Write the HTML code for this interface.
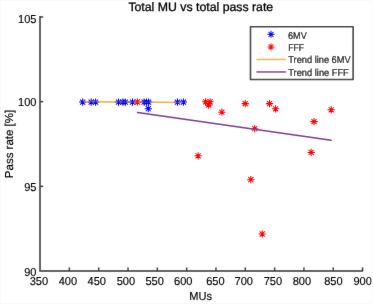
<!DOCTYPE html>
<html><head><meta charset="utf-8"><style>
html,body{margin:0;padding:0;background:#fff;}
svg{display:block;} text{will-change:transform;text-rendering:geometricPrecision;}
</style></head><body>
<svg width="373" height="304" viewBox="0 0 373 304">
<defs><filter id="bl" x="0" y="0" width="373" height="304" filterUnits="userSpaceOnUse"><feConvolveMatrix order="3" kernelMatrix="0.0036 0.0528 0.0036 0.0528 0.7744 0.0528 0.0036 0.0528 0.0036" preserveAlpha="false" edgeMode="duplicate"/></filter></defs>
<rect width="373" height="304" fill="#fff"/>
<g filter="url(#bl)">
<path d="M0 0.5H373M372.5 0V304M0 303.5H373M0.5 0V304" stroke="#fafafa" stroke-width="1" fill="none"/>
<path d="M40 16V271H363" stroke="#666666" stroke-width="2" fill="none" stroke-linejoin="round"/>
<g stroke="#404040" stroke-width="1.5">
<path d="M69.38 267.4V271"/>
<path d="M98.70 267.4V271"/>
<path d="M128.02 267.4V271"/>
<path d="M157.34 267.4V271"/>
<path d="M186.66 267.4V271"/>
<path d="M215.98 267.4V271"/>
<path d="M245.30 267.4V271"/>
<path d="M274.62 267.4V271"/>
<path d="M303.94 267.4V271"/>
<path d="M333.26 267.4V271"/>
<path d="M362.58 267.4V271"/>
<path d="M40 186.34H43.2"/>
<path d="M40 101.67H43.2"/>
<path d="M40 17.00H43.2"/>
</g>
<g font-family="Liberation Sans" font-size="11.5" fill="#000" stroke="#000" stroke-width="0.15">
<text transform="translate(38.85,285.3) scale(0.96,1)" text-anchor="middle">350</text>
<text transform="translate(67.90,285.3) scale(0.96,1)" text-anchor="middle">400</text>
<text transform="translate(96.80,285.3) scale(0.96,1)" text-anchor="middle">450</text>
<text transform="translate(125.90,285.3) scale(0.96,1)" text-anchor="middle">500</text>
<text transform="translate(154.60,285.3) scale(0.96,1)" text-anchor="middle">550</text>
<text transform="translate(183.30,285.3) scale(0.96,1)" text-anchor="middle">600</text>
<text transform="translate(215.40,285.3) scale(0.96,1)" text-anchor="middle">650</text>
<text transform="translate(243.80,285.3) scale(0.96,1)" text-anchor="middle">700</text>
<text transform="translate(272.90,285.3) scale(0.96,1)" text-anchor="middle">750</text>
<text transform="translate(301.90,285.3) scale(0.96,1)" text-anchor="middle">800</text>
<text transform="translate(333.40,285.3) scale(0.96,1)" text-anchor="middle">850</text>
<text transform="translate(362.60,285.3) scale(0.96,1)" text-anchor="middle">900</text>
<text transform="translate(36.5,275.80) scale(0.96,1)" text-anchor="end">90</text>
<text transform="translate(36.5,191.34) scale(0.96,1)" text-anchor="end">95</text>
<text transform="translate(36.5,106.37) scale(0.96,1)" text-anchor="end">100</text>
<text transform="translate(36.5,22.60) scale(0.96,1)" text-anchor="end">105</text>
<text transform="translate(200.6,300.2) scale(0.96,1)" text-anchor="middle">MUs</text>
<text transform="translate(13.0,144.0) rotate(-90)" text-anchor="middle">Pass rate [%]</text>
</g>
<text x="128.4" y="11.45" font-family="Liberation Sans" font-size="12.3" fill="#000" stroke="#000" stroke-width="0.3" textLength="144.8" lengthAdjust="spacingAndGlyphs">Total MU vs total pass rate</text>
<path d="M83.0 101.66L183 102.48" stroke="#EDB24A" stroke-width="1.55" fill="none"/>
<g stroke-width="1.05" fill="none">
<path d="M79.10 102.07H86.30M82.70 98.47V105.67M80.15 99.52L85.25 104.62M80.15 104.62L85.25 99.52" stroke="#0000ff"/>
<path d="M87.55 102.07H94.75M91.15 98.47V105.67M88.60 99.52L93.70 104.62M88.60 104.62L93.70 99.52" stroke="#0000ff"/>
<path d="M92.00 102.07H99.20M95.60 98.47V105.67M93.05 99.52L98.15 104.62M93.05 104.62L98.15 99.52" stroke="#0000ff"/>
<path d="M114.90 102.07H122.10M118.50 98.47V105.67M115.95 99.52L121.05 104.62M115.95 104.62L121.05 99.52" stroke="#0000ff"/>
<path d="M119.30 102.07H126.50M122.90 98.47V105.67M120.35 99.52L125.45 104.62M120.35 104.62L125.45 99.52" stroke="#0000ff"/>
<path d="M121.70 102.07H128.90M125.30 98.47V105.67M122.75 99.52L127.85 104.62M122.75 104.62L127.85 99.52" stroke="#0000ff"/>
<path d="M128.90 102.07H136.10M132.50 98.47V105.67M129.95 99.52L135.05 104.62M129.95 104.62L135.05 99.52" stroke="#0000ff"/>
<path d="M140.50 102.07H147.70M144.10 98.47V105.67M141.55 99.52L146.65 104.62M141.55 104.62L146.65 99.52" stroke="#0000ff"/>
<path d="M142.90 102.07H150.10M146.50 98.47V105.67M143.95 99.52L149.05 104.62M143.95 104.62L149.05 99.52" stroke="#0000ff"/>
<path d="M145.00 102.07H152.20M148.60 98.47V105.67M146.05 99.52L151.15 104.62M146.05 104.62L151.15 99.52" stroke="#0000ff"/>
<path d="M173.90 102.07H181.10M177.50 98.47V105.67M174.95 99.52L180.05 104.62M174.95 104.62L180.05 99.52" stroke="#0000ff"/>
<path d="M179.80 102.07H187.00M183.40 98.47V105.67M180.85 99.52L185.95 104.62M180.85 104.62L185.95 99.52" stroke="#0000ff"/>
<path d="M144.70 108.70H151.90M148.30 105.10V112.30M145.75 106.15L150.85 111.25M145.75 111.25L150.85 106.15" stroke="#0000ff"/>
<path d="M133.80 102.00H141.00M137.40 98.40V105.60M134.85 99.45L139.95 104.55M134.85 104.55L139.95 99.45" stroke="#ff0000"/>
<path d="M202.00 101.80H209.20M205.60 98.20V105.40M203.05 99.25L208.15 104.35M203.05 104.35L208.15 99.25" stroke="#ff0000"/>
<path d="M206.50 101.80H213.70M210.10 98.20V105.40M207.55 99.25L212.65 104.35M207.55 104.35L212.65 99.25" stroke="#ff0000"/>
<path d="M205.10 105.10H212.30M208.70 101.50V108.70M206.15 102.55L211.25 107.65M206.15 107.65L211.25 102.55" stroke="#ff0000"/>
<path d="M218.30 112.20H225.50M221.90 108.60V115.80M219.35 109.65L224.45 114.75M219.35 114.75L224.45 109.65" stroke="#ff0000"/>
<path d="M241.60 103.60H248.80M245.20 100.00V107.20M242.65 101.05L247.75 106.15M242.65 106.15L247.75 101.05" stroke="#ff0000"/>
<path d="M265.90 103.60H273.10M269.50 100.00V107.20M266.95 101.05L272.05 106.15M266.95 106.15L272.05 101.05" stroke="#ff0000"/>
<path d="M272.00 108.80H279.20M275.60 105.20V112.40M273.05 106.25L278.15 111.35M273.05 111.35L278.15 106.25" stroke="#ff0000"/>
<path d="M251.10 128.70H258.30M254.70 125.10V132.30M252.15 126.15L257.25 131.25M252.15 131.25L257.25 126.15" stroke="#ff0000"/>
<path d="M327.60 109.80H334.80M331.20 106.20V113.40M328.65 107.25L333.75 112.35M328.65 112.35L333.75 107.25" stroke="#ff0000"/>
<path d="M310.40 121.60H317.60M314.00 118.00V125.20M311.45 119.05L316.55 124.15M311.45 124.15L316.55 119.05" stroke="#ff0000"/>
<path d="M307.60 152.40H314.80M311.20 148.80V156.00M308.65 149.85L313.75 154.95M308.65 154.95L313.75 149.85" stroke="#ff0000"/>
<path d="M194.50 155.80H201.70M198.10 152.20V159.40M195.55 153.25L200.65 158.35M195.55 158.35L200.65 153.25" stroke="#ff0000"/>
<path d="M247.20 179.70H254.40M250.80 176.10V183.30M248.25 177.15L253.35 182.25M248.25 182.25L253.35 177.15" stroke="#ff0000"/>
<path d="M258.60 234.00H265.80M262.20 230.40V237.60M259.65 231.45L264.75 236.55M259.65 236.55L264.75 231.45" stroke="#ff0000"/>
</g>
<path d="M83.0 101.66L183 102.48" stroke="#EDB24A" stroke-width="1.1" stroke-opacity="0.55" fill="none"/>
<circle cx="82.70" cy="102.07" r="0.9" fill="#101060" fill-opacity="0.7"/>
<circle cx="91.15" cy="102.07" r="0.9" fill="#101060" fill-opacity="0.7"/>
<circle cx="95.60" cy="102.07" r="0.9" fill="#101060" fill-opacity="0.7"/>
<circle cx="118.50" cy="102.07" r="0.9" fill="#101060" fill-opacity="0.7"/>
<circle cx="122.90" cy="102.07" r="0.9" fill="#101060" fill-opacity="0.7"/>
<circle cx="125.30" cy="102.07" r="0.9" fill="#101060" fill-opacity="0.7"/>
<circle cx="132.50" cy="102.07" r="0.9" fill="#101060" fill-opacity="0.7"/>
<circle cx="144.10" cy="102.07" r="0.9" fill="#101060" fill-opacity="0.7"/>
<circle cx="146.50" cy="102.07" r="0.9" fill="#101060" fill-opacity="0.7"/>
<circle cx="148.60" cy="102.07" r="0.9" fill="#101060" fill-opacity="0.7"/>
<circle cx="177.50" cy="102.07" r="0.9" fill="#101060" fill-opacity="0.7"/>
<circle cx="183.40" cy="102.07" r="0.9" fill="#101060" fill-opacity="0.7"/>
<circle cx="137.40" cy="102.00" r="0.8" fill="#601010" fill-opacity="0.6"/>
<path d="M137.6 112.5L331.2 140.2" stroke="#7C3F8F" stroke-width="1.45" stroke-linecap="round" fill="none"/>
<rect x="250.5" y="26.8" width="102.6" height="52.7" fill="#fff" stroke="#454545" stroke-width="1.6" stroke-linejoin="round"/>
<g stroke-width="1.05" fill="none">
<path d="M267.50 34.35H274.50M271.00 30.85V37.85M268.53 31.88L273.47 36.82M268.53 36.82L273.47 31.88" stroke="#0000ff"/>
<path d="M267.50 46.90H274.50M271.00 43.40V50.40M268.53 44.43L273.47 49.37M268.53 49.37L273.47 44.43" stroke="#ff0000"/>
</g>
<path d="M256.4 59.45H285.9" stroke="#EDB24A" stroke-width="1.45"/>
<path d="M256.4 71.95H285.9" stroke="#7C3F8F" stroke-width="1.5"/>
<g font-family="Liberation Sans" font-size="9.9" fill="#000" stroke="#000" stroke-width="0.2">
<text x="288.0" y="38.8" textLength="18.8" lengthAdjust="spacingAndGlyphs">6MV</text>
<text x="288.2" y="51.0" textLength="15.9" lengthAdjust="spacingAndGlyphs">FFF</text>
<text x="288.3" y="63.2" textLength="62.3" lengthAdjust="spacingAndGlyphs">Trend line 6MV</text>
<text x="288.3" y="75.5" textLength="60.5" lengthAdjust="spacingAndGlyphs">Trend line FFF</text>
</g>
</g>
</svg>
</body></html>
